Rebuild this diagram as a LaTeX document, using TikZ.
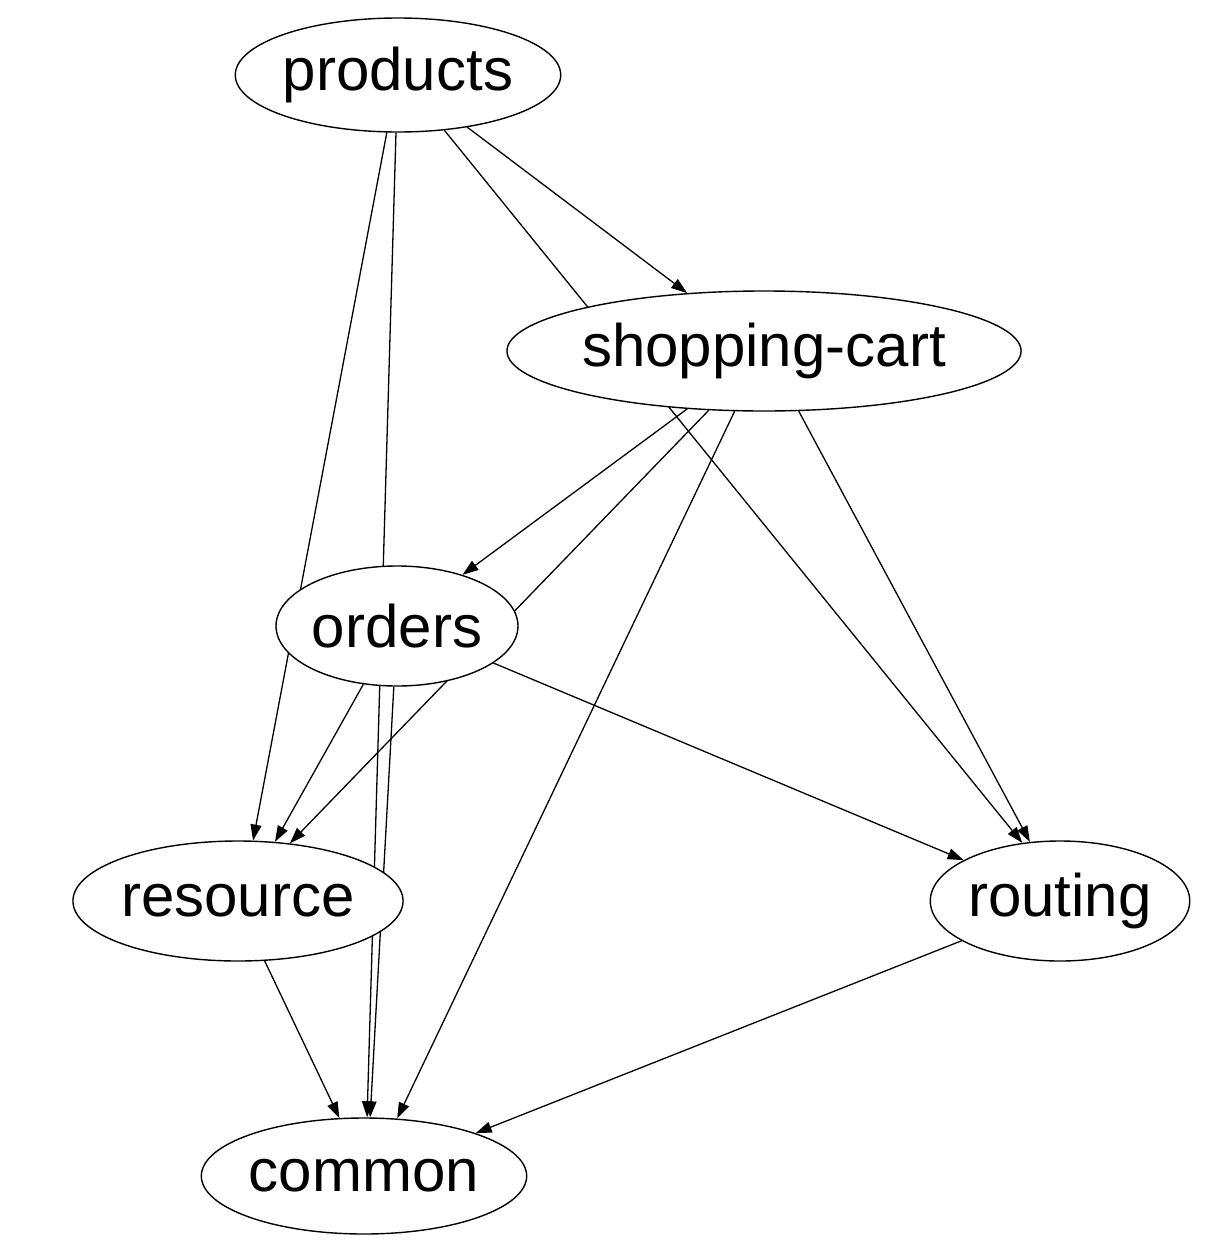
\documentclass[tikz,border=0pt]{standalone}
\usepackage{fontspec}
\setmainfont{Liberation Sans}
\usetikzlibrary{shapes.geometric,arrows.meta,backgrounds}
\begin{document}
\begin{tikzpicture}[x=1pt,y=-1pt,
  nd/.style={ellipse,draw,line width=1.4pt,fill=white,inner sep=0pt,font=\fontsize{60}{70}\selectfont},
  ed/.style={line width=1.3pt,-{Triangle[length=16pt,width=11pt]}}]
\useasboundingbox (0,0) rectangle (1218,1250);
\node[nd,minimum width=304pt,minimum height=114pt] (products) at (398,75) {products};
\node[nd,minimum width=444pt,minimum height=120pt] (cart) at (764,351) {shopping-cart};
\node[nd,minimum width=242pt,minimum height=120pt] (orders) at (397,626) {orders};
\node[nd,minimum width=308pt,minimum height=120pt] (resource) at (238,901) {resource};
\node[nd,minimum width=254pt,minimum height=120pt] (routing) at (1060,901) {routing};
\node[nd,minimum width=302pt,minimum height=116pt] (common) at (364,1176) {common};
\begin{scope}[on background layer]
\draw[ed] (products.-37.6) -- (cart.143);
\draw[ed] (products.-101.7) -- (resource.76.6);
\draw[ed] (products.-92.7) -- (common.87);
\draw[ed] (products.-50.5) -- (routing.123.7);
\draw[ed] (cart.-143.1) -- (orders.38.3);
\draw[ed] (cart.-133.5) -- (resource.48.9);
\draw[ed] (cart.-116.2) -- (common.60.9);
\draw[ed] (cart.-60.8) -- (routing.117.6);
\draw[ed] (orders.-120.7) -- (resource.58.9);
\draw[ed] (orders.-93.7) -- (common.84.4);
\draw[ed] (orders.-21.6) -- (routing.157.3);
\draw[ed] (resource.-66) -- (common.113.9);
\draw[ed] (routing.-158.3) -- (common.21.4);
\end{scope}
\end{tikzpicture}
\end{document}
